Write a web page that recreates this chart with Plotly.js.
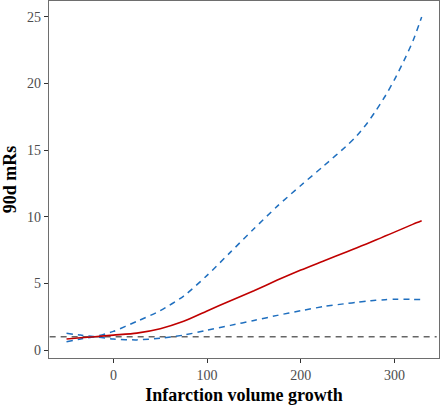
<!DOCTYPE html>
<html>
<head>
<meta charset="utf-8">
<script src="https://cdn.plot.ly/plotly-3.0.1.min.js"></script>
<style>
  body { margin: 0; background: #fff; }
  #myDiv { width: 440px; height: 405px; }
</style>
</head>
<body>
<div id="myDiv"></div>
<script>
// values
var growth = [-50, -35, -20, 0, 25, 50, 75, 100, 125, 150, 175, 200, 225, 250, 260, 270, 280, 290, 300, 310, 320, 329];
var orFit  = [0.83, 0.92, 1.0, 1.12, 1.27, 1.6, 2.15, 2.93, 3.7, 4.45, 5.25, 6.0, 6.7, 7.4, 7.68, 7.96, 8.25, 8.55, 8.85, 9.15, 9.45, 9.7];
var upper  = [1.25, 1.12, 1.02, 1.4, 2.15, 2.95, 4.05, 5.6, 7.35, 9.1, 10.8, 12.35, 13.85, 15.4, 16.1, 16.95, 17.95, 19.05, 20.3, 21.7, 23.25, 25.0];
var lower  = [0.62, 0.82, 0.98, 0.82, 0.76, 0.88, 1.12, 1.48, 1.85, 2.22, 2.6, 2.95, 3.27, 3.5, 3.58, 3.66, 3.73, 3.78, 3.81, 3.81, 3.8, 3.78];
var refX = [-68, 345];
var refY = [1, 1];

var data = [
  {x: refX, y: refY, mode: "lines", line: {color: "#666666", width: 1.4, dash: "6px,5px"}},
  {x: growth, y: upper, mode: "lines", line: {color: "#1f6fbf", width: 1.5, dash: "6px,5px", shape: "spline", smoothing: 0.7}},
  {x: growth, y: lower, mode: "lines", line: {color: "#1f6fbf", width: 1.5, dash: "6px,5px", shape: "spline", smoothing: 0.7}},
  {x: growth, y: orFit, mode: "lines", line: {color: "#c00000", width: 1.6, shape: "spline", smoothing: 0.7}}
]

var axisStyle = {
  showgrid: false,
  zeroline: false,
  showline: true,
  mirror: true,
  linecolor: "#6e6e6e",
  linewidth: 1.2,
  ticks: "outside",
  ticklen: 4,
  tickwidth: 1,
  tickcolor: "#333333",
  tickfont: {family: "Liberation Serif", size: 14, color: "#4d4d4d"}
}

var layout = {
  width: 440,
  height: 405,
  margin: {t: 1, b: 47, l: 49, r: 1},
  showlegend: false,
  paper_bgcolor: "#fff",
  plot_bgcolor: "#fff",
  xaxis: Object.assign({}, axisStyle, {
    range: [-68.7, 347.5],
    tickvals: [0, 100, 200, 300],
    title: {text: "Infarction volume growth", standoff: 7,
            font: {family: "Liberation Serif", size: 18, color: "#000", weight: "bold"}}
  }),
  yaxis: Object.assign({}, axisStyle, {
    range: [-0.6, 26.2],
    tickvals: [0, 5, 10, 15, 20, 25],
    title: {text: "90d mRs", standoff: 6,
            font: {family: "Liberation Serif", size: 18, color: "#000", weight: "bold"}}
  })
}

Plotly.newPlot('myDiv', data, layout, {displayModeBar: false, staticPlot: true})
</script>
</body>
</html>
